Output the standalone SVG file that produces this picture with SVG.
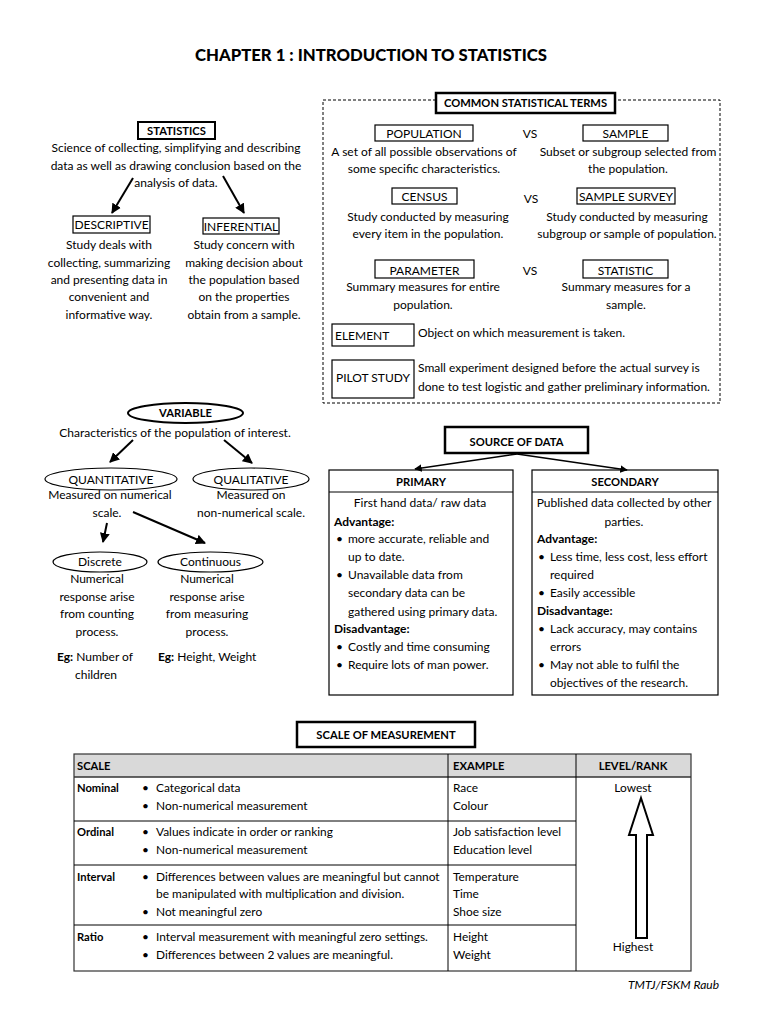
<svg xmlns="http://www.w3.org/2000/svg" width="768" height="1024" viewBox="0 0 768 1024">
<style>
text{font-family:Lato,"Liberation Sans",sans-serif;font-size:12px;fill:#000}
.c{text-anchor:middle}
.b{font-weight:bold}
.h{font-weight:bold;font-size:11.2px}
.bx{fill:#fff;stroke:#000;stroke-width:1.2}
.tb{fill:#fff;stroke:#000;stroke-width:2.5}
.ln{stroke:#000;stroke-width:1}
.ar{stroke:#000;stroke-width:2;fill:none;marker-end:url(#ah)}
.ar2{stroke:#000;stroke-width:1.5;fill:none;marker-end:url(#ah)}
.tt{font-size:11.9px}
</style>
<defs>
<marker id="ah" viewBox="0 0 10 10" refX="9" refY="5" markerWidth="5" markerHeight="5" orient="auto"><path d="M0,0L10,5L0,10z" fill="#000"/></marker>
</defs>
<rect width="768" height="1024" fill="#fff"/>
<text x="371" y="61" class="c" style="font-size:16px;font-weight:900" textLength="352" lengthAdjust="spacingAndGlyphs">CHAPTER 1 : INTRODUCTION TO STATISTICS</text>

<g id="statistics">
<rect x="138" y="122" width="77" height="17" fill="#fff" stroke="#000" stroke-width="2"/>
<text x="176.5" y="134.5" class="c h">STATISTICS</text>
<text x="176" y="152" class="c">Science of collecting, simplifying and describing</text>
<text x="176" y="170" class="c">data as well as drawing conclusion based on the</text>
<text x="176" y="187" class="c">analysis of data.</text>
</g>
<g id="descriptive">
<rect x="73" y="216" width="77" height="17" class="bx"/>
<text x="111.5" y="229" class="c">DESCRIPTIVE</text>
<text x="109" y="249" class="c">Study deals with</text>
<text x="109" y="267" class="c">collecting, summarizing</text>
<text x="109" y="284" class="c">and presenting data in</text>
<text x="109" y="301" class="c">convenient and</text>
<text x="109" y="319" class="c">informative way.</text>
</g>
<g id="inferential">
<rect x="203" y="218" width="76" height="16" class="bx"/>
<text x="241" y="230.5" class="c">INFERENTIAL</text>
<text x="244" y="249" class="c">Study concern with</text>
<text x="244" y="267" class="c">making decision about</text>
<text x="244" y="284" class="c">the population based</text>
<text x="244" y="301" class="c">on the properties</text>
<text x="244" y="319" class="c">obtain from a sample.</text>
</g>

<g id="common-terms">
<rect x="323" y="100" width="397" height="303" fill="none" stroke="#000" stroke-width="1" stroke-dasharray="3,2"/>
<rect x="436" y="93" width="179" height="20" class="tb"/>
<text x="525.5" y="107" class="c h">COMMON STATISTICAL TERMS</text>
</g>
<g id="population">
<rect x="375" y="125" width="98" height="16" class="bx"/>
<text x="424" y="138" class="c">POPULATION</text>
<text x="424" y="156" class="c">A set of all possible observations of</text>
<text x="424" y="173" class="c">some specific characteristics.</text>
</g>
<text x="530" y="138" class="c">VS</text>
<g id="sample">
<rect x="583" y="125" width="85" height="16" class="bx"/>
<text x="625.5" y="138" class="c">SAMPLE</text>
<text x="628" y="156" class="c">Subset or subgroup selected from</text>
<text x="628" y="173" class="c">the population.</text>
</g>
<g id="census">
<rect x="392" y="188" width="65" height="16" class="bx"/>
<text x="424.5" y="201" class="c">CENSUS</text>
<text x="428" y="221" class="c">Study conducted by measuring</text>
<text x="428" y="238" class="c">every item in the population.</text>
</g>
<text x="531" y="203" class="c">VS</text>
<g id="sample-survey">
<rect x="577" y="188" width="98" height="16" class="bx"/>
<text x="626" y="201" class="c">SAMPLE SURVEY</text>
<text x="627" y="221" class="c">Study conducted by measuring</text>
<text x="627" y="238" class="c">subgroup or sample of population.</text>
</g>
<g id="parameter">
<rect x="375" y="260" width="99" height="18" class="bx"/>
<text x="424.5" y="275" class="c">PARAMETER</text>
<text x="423" y="291" class="c">Summary measures for entire</text>
<text x="423" y="309" class="c">population.</text>
</g>
<text x="530" y="275" class="c">VS</text>
<g id="statistic">
<rect x="583" y="260" width="85" height="18" class="bx"/>
<text x="625.5" y="275" class="c">STATISTIC</text>
<text x="626" y="291" class="c">Summary measures for a</text>
<text x="626" y="309" class="c">sample.</text>
</g>
<g id="element">
<rect x="332" y="324" width="82" height="22" class="bx"/>
<text x="335" y="340">ELEMENT</text>
<text x="418" y="337">Object on which measurement is taken.</text>
</g>
<g id="pilot-study">
<rect x="332" y="360" width="82" height="38" class="bx"/>
<text x="336" y="382">PILOT STUDY</text>
<text x="418" y="372">Small experiment designed before the actual survey is</text>
<text x="418" y="391">done to test logistic and gather preliminary information.</text>
</g>

<g id="variable">
<ellipse cx="185.5" cy="413" rx="57.5" ry="10" fill="#fff" stroke="#000" stroke-width="2"/>
<text x="185.5" y="417" class="c h">VARIABLE</text>
<text x="175" y="437" class="c">Characteristics of the population of interest.</text>
</g>
<g id="quantitative">
<ellipse cx="111" cy="479" rx="66" ry="11" class="bx"/>
<text x="111" y="484" class="c">QUANTITATIVE</text>
<text x="110" y="499" class="c">Measured on numerical</text>
<text x="107" y="517" class="c">scale.</text>
</g>
<g id="qualitative">
<ellipse cx="251" cy="479" rx="58" ry="11" class="bx"/>
<text x="251" y="484" class="c">QUALITATIVE</text>
<text x="251" y="499" class="c">Measured on</text>
<text x="251" y="517" class="c">non-numerical scale.</text>
</g>
<g id="discrete">
<ellipse cx="100" cy="562" rx="47" ry="10" class="bx"/>
<text x="100" y="566" class="c">Discrete</text>
<text x="97" y="582.5" class="c">Numerical</text>
<text x="97" y="601" class="c">response arise</text>
<text x="97" y="618" class="c">from counting</text>
<text x="97" y="636" class="c">process.</text>
<text x="95" y="661" class="c"><tspan class="b">Eg:</tspan> Number of</text>
<text x="96" y="679" class="c">children</text>
</g>
<g id="continuous">
<ellipse cx="210.5" cy="562" rx="52.5" ry="10" class="bx"/>
<text x="210.5" y="566" class="c">Continuous</text>
<text x="207" y="582.5" class="c">Numerical</text>
<text x="207" y="601" class="c">response arise</text>
<text x="207" y="618" class="c">from measuring</text>
<text x="207" y="636" class="c">process.</text>
<text x="158" y="661"><tspan class="b">Eg:</tspan> Height, Weight</text>
</g>

<g id="source-of-data">
<rect x="445" y="427" width="143" height="26" class="tb"/>
<text x="516.5" y="446" class="c h">SOURCE OF DATA</text>
</g>
<g id="primary">
<rect x="329" y="470" width="184" height="225" class="bx"/>
<line x1="329" y1="492" x2="513" y2="492" class="ln"/>
<text x="421" y="486" class="c h">PRIMARY</text>
<text x="420" y="507" class="c">First hand data/ raw data</text>
<text x="334" y="526" class="b">Advantage:</text>
<text x="336" y="543">•</text><text x="348" y="543">more accurate, reliable and</text>
<text x="348" y="561">up to date.</text>
<text x="336" y="579">•</text><text x="348" y="579">Unavailable data from</text>
<text x="348" y="597">secondary data can be</text>
<text x="348" y="616">gathered using primary data.</text>
<text x="334" y="633" class="b">Disadvantage:</text>
<text x="336" y="651">•</text><text x="348" y="651">Costly and time consuming</text>
<text x="336" y="669">•</text><text x="348" y="669">Require lots of man power.</text>
</g>
<g id="secondary">
<rect x="532" y="470" width="186" height="225" class="bx"/>
<line x1="532" y1="492" x2="718" y2="492" class="ln"/>
<text x="625" y="486" class="c h">SECONDARY</text>
<text x="624" y="507" class="c">Published data collected by other</text>
<text x="624" y="526" class="c">parties.</text>
<text x="537" y="543" class="b">Advantage:</text>
<text x="538" y="561">•</text><text x="550" y="561">Less time, less cost, less effort</text>
<text x="550" y="579">required</text>
<text x="538" y="597">•</text><text x="550" y="597">Easily accessible</text>
<text x="537" y="615" class="b">Disadvantage:</text>
<text x="538" y="633">•</text><text x="550" y="633">Lack accuracy, may contains</text>
<text x="550" y="651">errors</text>
<text x="538" y="669">•</text><text x="550" y="669">May not able to fulfil the</text>
<text x="550" y="687">objectives of the research.</text>
</g>

<g id="scale-of-measurement">
<rect x="297" y="722" width="178" height="25" class="tb"/>
<text x="386" y="739" class="c h">SCALE OF MEASUREMENT</text>
</g>
<g id="scale-table">
<rect x="74" y="754" width="617" height="23" fill="#d9d9d9"/>
<rect x="74" y="754" width="617" height="217" fill="none" stroke="#333" stroke-width="1.2"/>
<line x1="74" y1="777" x2="691" y2="777" stroke="#333" stroke-width="1.5"/>
<line x1="448" y1="754" x2="448" y2="971" class="ln"/>
<line x1="576" y1="754" x2="576" y2="971" class="ln"/>
<line x1="74" y1="821" x2="576" y2="821" class="ln"/>
<line x1="74" y1="865" x2="576" y2="865" class="ln"/>
<line x1="74" y1="925" x2="576" y2="925" class="ln"/>
<text x="77" y="770" class="h">SCALE</text>
<text x="453" y="770" class="h">EXAMPLE</text>
<text x="633" y="770" class="c h">LEVEL/RANK</text>
<text x="77" y="792" class="h">Nominal</text>
<text x="142" y="792" class="tt">•</text><text x="156" y="792" class="tt">Categorical data</text>
<text x="142" y="810" class="tt">•</text><text x="156" y="810" class="tt">Non-numerical measurement</text>
<text x="77" y="836" class="h">Ordinal</text>
<text x="142" y="836" class="tt">•</text><text x="156" y="836" class="tt">Values indicate in order or ranking</text>
<text x="142" y="854" class="tt">•</text><text x="156" y="854" class="tt">Non-numerical measurement</text>
<text x="77" y="881" class="h">Interval</text>
<text x="142" y="881" class="tt">•</text><text x="156" y="881" class="tt">Differences between values are meaningful but cannot</text>
<text x="156" y="898" class="tt">be manipulated with multiplication and division.</text>
<text x="142" y="916" class="tt">•</text><text x="156" y="916" class="tt">Not meaningful zero</text>
<text x="77" y="941" class="h">Ratio</text>
<text x="142" y="941" class="tt">•</text><text x="156" y="941" class="tt">Interval measurement with meaningful zero settings.</text>
<text x="142" y="959" class="tt">•</text><text x="156" y="959" class="tt">Differences between 2 values are meaningful.</text>
<text x="453" y="792" class="tt">Race</text>
<text x="453" y="810" class="tt">Colour</text>
<text x="453" y="836" class="tt">Job satisfaction level</text>
<text x="453" y="854" class="tt">Education level</text>
<text x="453" y="881" class="tt">Temperature</text>
<text x="453" y="898" class="tt">Time</text>
<text x="453" y="916" class="tt">Shoe size</text>
<text x="453" y="941" class="tt">Height</text>
<text x="453" y="959" class="tt">Weight</text>
<text x="633" y="792" class="c tt">Lowest</text>
<text x="633" y="951" class="c tt">Highest</text>
<polygon points="641,798 653,835 647,835 647,938 636,938 636,835 629,835" fill="#fff" stroke="#000" stroke-width="2"/>
</g>
<text x="719" y="989" style="font-style:italic;font-size:12px;text-anchor:end">TMTJ/FSKM Raub</text>

<g id="connectors">
<line x1="133" y1="178" x2="112" y2="213" class="ar"/>
<line x1="223" y1="176" x2="244" y2="213" class="ar"/>
<line x1="133" y1="440" x2="110" y2="462" class="ar"/>
<line x1="224" y1="440" x2="252" y2="463" class="ar"/>
<line x1="107" y1="523" x2="103" y2="542" class="ar"/>
<line x1="133" y1="512" x2="205" y2="543" class="ar"/>
<line x1="517" y1="454" x2="415" y2="469" class="ar2"/>
<line x1="517" y1="454" x2="627" y2="470" class="ar2"/>
</g>
</svg>
